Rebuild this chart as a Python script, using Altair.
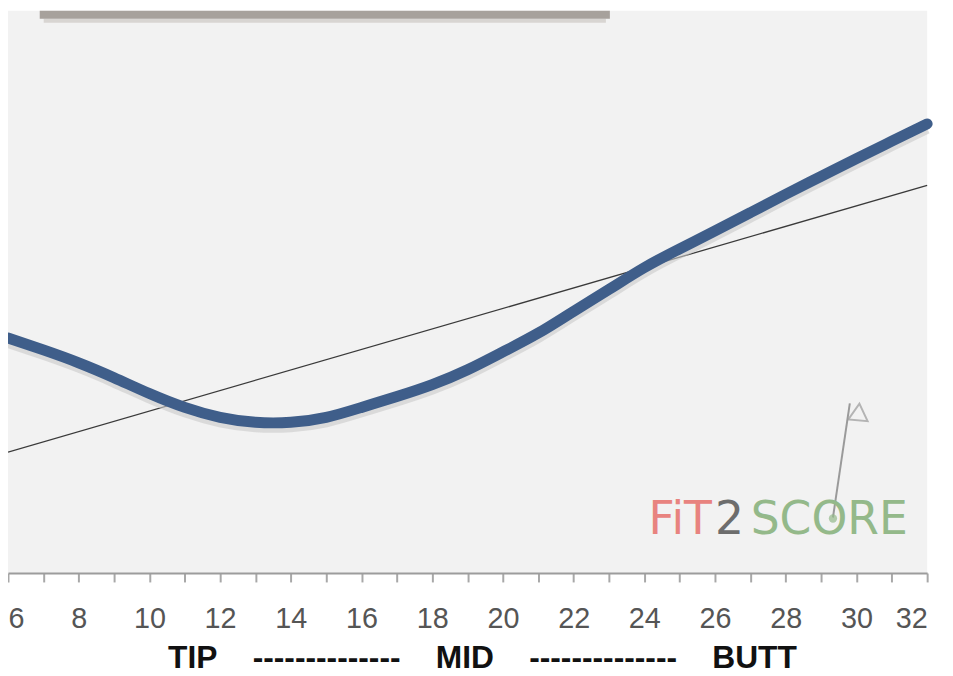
import altair as alt
import pandas as pd

# shaft position (inches from tip) and relative stiffness profile
positions = list(range(6, 33))
flex = [47.4, 45.0, 42.4, 39.4, 36.2, 33.4, 31.4, 30.4, 30.4, 31.4, 33.4, 35.6, 38.0, 41.0,
        44.6, 48.4, 52.8, 57.2, 61.6, 65.4, 69.0, 72.7, 76.4, 80.0, 83.6, 87.1, 90.6]
trend_pos = [6, 32]
trend_flex = [24.4, 78.2]

profile = pd.DataFrame({"pos": positions, "flex": flex})
trend = pd.DataFrame({"pos": trend_pos, "flex": trend_flex})
dummy = pd.DataFrame({"k": [0]})

gap = "\u00a0" * 4
axis_title = "TIP" + gap + "-" * 14 + gap + "MID" + gap + "-" * 14 + gap + "BUTT"

x_enc = alt.X(
    "pos:Q",
    scale=alt.Scale(domain=[6, 32], nice=False, zero=False),
    axis=alt.Axis(
        values=positions,
        labelExpr="datum.value % 2 == 0 ? datum.label : ''",
        grid=False,
        domainColor="#9c9c9c",
        domainWidth=2,
        tickColor="#a8a8a8",
        tickWidth=2,
        tickSize=9,
        labelFont="Liberation Sans Narrow, Liberation Sans",
        labelFontSize=29,
        labelColor="#555555",
        labelPadding=23,
        labelOverlap=False,
        title=axis_title,
        titleFont="Liberation Sans Narrow, Liberation Sans",
        titleFontSize=32,
        titleFontWeight="bold",
        titleColor="#111111",
        titlePadding=9,
        titleX=478,
        titleAlign="center",
    ),
)
y_enc = alt.Y("flex:Q", scale=alt.Scale(domain=[0, 113.4], nice=False, zero=False), axis=None)

shadow = alt.Chart(profile).transform_calculate(sh="datum.flex - 0.9").mark_line(
    interpolate="natural", color="#c9c9c9", strokeWidth=11, opacity=0.6
).encode(x=x_enc, y=alt.Y("sh:Q", scale=alt.Scale(domain=[0, 113.4], nice=False), axis=None))

curve = alt.Chart(profile).mark_line(
    interpolate="natural", color="#3f5e8a", strokeWidth=11, strokeCap="round"
).encode(x=x_enc, y=y_enc)

trend_line = alt.Chart(trend).mark_line(color="#3a3a3a", strokeWidth=1.3).encode(x=x_enc, y=y_enc)

# cropped heading box at the top
top_box = alt.Chart(dummy).mark_rect(color="#a7a19c").encode(
    x=alt.value(32), x2=alt.value(607), y=alt.value(0), y2=alt.value(8)
)
top_shadow = alt.Chart(dummy).mark_rect(color="#d8d5d2").encode(
    x=alt.value(36), x2=alt.value(603), y=alt.value(8), y2=alt.value(12)
)

# logo
logo_font = "DejaVu Sans"
fit = alt.Chart(dummy).mark_text(
    text="FiT", font=logo_font, fontSize=46, color="#e8837f", align="left", baseline="alphabetic"
).encode(x=alt.value(646), y=alt.value(528))
two = alt.Chart(dummy).mark_text(
    text="2", font=logo_font, fontSize=46, color="#6d6d6d", align="left", baseline="alphabetic"
).encode(x=alt.value(713), y=alt.value(528))
score = alt.Chart(dummy).mark_text(
    text="SCORE", font=logo_font, fontSize=46, color="#94b98a", align="left", baseline="alphabetic"
).encode(x=alt.value(749), y=alt.value(528))
pole = alt.Chart(dummy).mark_rule(color="#9a9a9a", strokeWidth=2).encode(
    x=alt.value(832), y=alt.value(511), x2=alt.value(849), y2=alt.value(396)
)
flag = alt.Chart(dummy).mark_point(
    shape="triangle-right", size=380, angle=35, filled=False, color="#9a9a9a", strokeWidth=2
).encode(x=alt.value(860), y=alt.value(409))
target = alt.Chart(dummy).mark_point(
    shape="circle", size=70, filled=True, color="#94b98a"
).encode(x=alt.value(832), y=alt.value(512))

chart = alt.layer(
    top_shadow, top_box, trend_line, shadow, curve, pole, flag, fit, two, score, target
).properties(
    width=927,
    height=567,
    autosize=alt.AutoSizeParams(type="none"),
    padding={"left": 0, "top": 0, "right": 18, "bottom": 100},
    background="white",
).configure_view(fill="#f2f2f2", stroke=None)

chart.save("out.html", embed_options={"renderer": "svg", "actions": False})
